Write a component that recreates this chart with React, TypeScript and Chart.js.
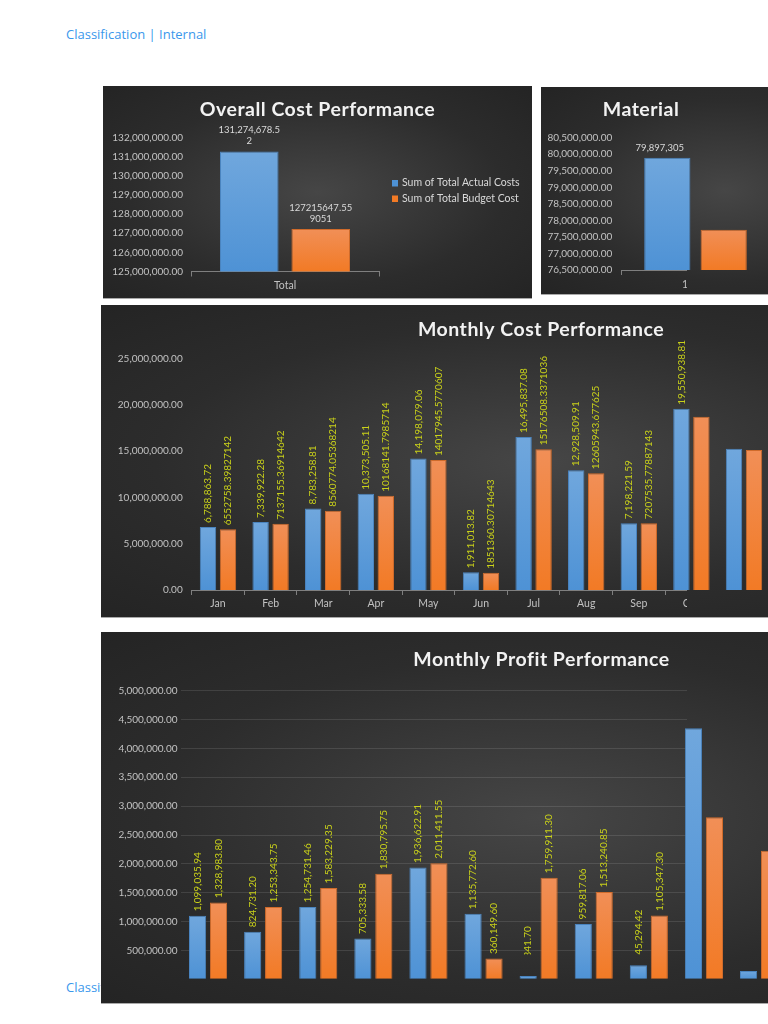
import React, { useEffect, useRef } from 'react';
import { Chart, registerables } from 'chart.js';

Chart.register(...registerables);

// ---------- data ----------
const classificationText = 'Classification | Internal';

const overallTitle = 'Overall Cost Performance';
const overallCategories = ['Total'];
const overallSeriesNames = ['Sum of Total Actual Costs', 'Sum of Total Budget Cost'];
const overallActual = [131274678.52];
const overallBudget = [127215647.559051];
const overallAxis = [125000000, 132000000, 1000000];

const materialTitle = 'Material';
const materialCategories = ['1'];
const materialActual = [79897305];
const materialBudget = [77716000];
const materialAxis = [76500000, 80500000, 500000];

const months = ['Jan', 'Feb', 'Mar', 'Apr', 'May', 'Jun', 'Jul', 'Aug', 'Sep', 'Oct', 'Nov'];

const costTitle = 'Monthly Cost Performance';
const costActual = [
  6788863.72, 7339922.28, 8783258.81, 10373505.11, 14198079.06, 1911013.82,
  16495837.08, 12928509.91, 7198221.59, 19550938.81, 15240000,
];
const costBudget = [
  6552758.39827142, 7137155.36914642, 8560774.05368214, 10168141.7985714, 14017945.5770607,
  1851360.30714643, 15176508.3371036, 12605943.677625, 7207535.77887143, 18700000, 15100000,
];
const costAxis = [0, 25000000, 5000000];

const profitTitle = 'Monthly Profit Performance';
const profitActual = [
  1099035.94, 824731.2, 1254731.46, 705333.58, 1936622.91, 1135772.6,
  57341.7, 959817.06, 245294.42, 4349000, 145000,
];
const profitBudget = [
  1328983.8, 1253343.75, 1583229.35, 1830795.75, 2011411.55, 360149.6,
  1759911.3, 1513240.85, 1105347.3, 2807000, 2228000,
];
const profitAxis = [0, 5000000, 500000];

// ---------- styles ----------
const FONT = 'Lato, "Open Sans", sans-serif';
const TICK_COLOR = '#c2c2c2';
const AXIS_COLOR = '#7f7f7f';
const LABEL_LIGHT = '#d9d9d9';
const LABEL_LIME = '#c9d11a';
const TITLE_COLOR = '#f2f2f2';
const BLUE = { top: '#70a7dd', bottom: '#4e92d5', edge: '#4a84bf' };
const ORANGE = { top: '#f18f57', bottom: '#f27a25', edge: '#cf6b2b' };
const PANEL_BG = 'radial-gradient(ellipse farthest-corner at 50% 50%, #464646 0%, #2c2c2c 62%, #242424 100%)';

const fmt2 = (v: number) =>
  v.toLocaleString('en-US', { minimumFractionDigits: 2, maximumFractionDigits: 2 });
const fmt0 = (v: number) => v.toLocaleString('en-US', { maximumFractionDigits: 0 });
const raw = (v: number) => String(v);

// vertical gradient per bar, from its top down to the base line
function barFill(c: { top: string; bottom: string }) {
  return (ctx: any) => {
    const chart = ctx.chart;
    const area = chart.chartArea;
    const y = chart.scales && chart.scales.y;
    if (!area || !y || ctx.type !== 'data') return c.bottom;
    const yTop = y.getPixelForValue(ctx.raw);
    const yBase = area.bottom;
    if (!isFinite(yTop) || yBase - yTop < 1) return c.bottom;
    const g = chart.ctx.createLinearGradient(0, yTop, 0, yBase);
    g.addColorStop(0, c.top);
    g.addColorStop(1, c.bottom);
    return g;
  };
}

function barDataset(label: string, data: number[], c: typeof BLUE) {
  return {
    label,
    data,
    backgroundColor: barFill(c),
    borderColor: c.edge,
    borderWidth: 1,
    categoryPercentage: 0.76,
    barPercentage: 0.82,
  };
}

function yAxis(range: number[], width: number, pad: number, gridColor?: string) {
  return {
    min: range[0],
    max: range[1],
    afterFit: (s: any) => {
      s.width = width;
    },
    ticks: {
      stepSize: range[2],
      autoSkip: false,
      padding: pad,
      color: TICK_COLOR,
      font: { family: FONT, size: 10 },
      callback: (v: any) => fmt2(Number(v)),
    },
    grid: gridColor
      ? { display: true, drawTicks: false, color: gridColor, lineWidth: 1 }
      : { display: false, drawTicks: false },
    border: { display: false },
  };
}

function xAxis(height: number, pad: number, labelOffset = 0) {
  return {
    afterFit: (s: any) => {
      s.height = height;
    },
    grid: {
      display: true,
      drawOnChartArea: false,
      drawTicks: true,
      tickLength: 5,
      color: AXIS_COLOR,
      offset: true,
    },
    border: { display: true, color: AXIS_COLOR, width: 1 },
    ticks: {
      color: TICK_COLOR,
      font: { family: FONT, size: 10.5 },
      padding: pad,
      labelOffset,
      maxRotation: 0,
      autoSkip: false,
    },
  };
}

function baseOptions(padding: any, x: any, y: any) {
  return {
    responsive: false,
    maintainAspectRatio: false,
    animation: false,
    devicePixelRatio: 1,
    events: [],
    layout: { padding },
    plugins: {
      legend: { display: false },
      title: { display: false },
      tooltip: { enabled: false },
    },
    scales: { x, y },
  };
}

// ---------- drawing helpers (plugins) ----------
function titlePlugin(text: string, x: number, y: number, size = 19.5) {
  return {
    id: 'panelTitle',
    afterDraw(chart: any) {
      const c = chart.ctx;
      c.save();
      c.font = `bold ${size}px ${FONT}`;
      c.letterSpacing = '0.5px';
      c.fillStyle = TITLE_COLOR;
      c.textAlign = 'center';
      c.textBaseline = 'middle';
      c.fillText(text, x, y);
      c.restore();
    },
  };
}

function legendPlugin(x: number, y: number, rowGap: number, colors: string[]) {
  return {
    id: 'panelLegend',
    afterDraw(chart: any) {
      const c = chart.ctx;
      c.save();
      c.font = `10.5px ${FONT}`;
      c.textAlign = 'left';
      c.textBaseline = 'middle';
      chart.data.datasets.forEach((ds: any, i: number) => {
        const cy = y + i * rowGap;
        c.fillStyle = colors[i];
        c.fillRect(x, cy - 3, 6, 6.5);
        c.fillStyle = LABEL_LIGHT;
        c.fillText(ds.label, x + 10, cy);
      });
      c.restore();
    },
  };
}

// hides the axis layer beyond a rectangle; bars are drawn unclipped afterwards
function axisClipPlugin(right: number, bottom?: number) {
  return {
    id: 'axisClip',
    beforeDraw(chart: any) {
      const c = chart.ctx;
      c.save();
      c.beginPath();
      c.rect(0, 0, right, bottom ?? chart.height);
      c.clip();
    },
    beforeDatasetsDraw(chart: any) {
      chart.ctx.restore();
    },
  };
}

function wrapText(c: CanvasRenderingContext2D, text: string, maxW?: number) {
  if (!maxW) return [text];
  const lines: string[] = [];
  let cur = '';
  for (const ch of text) {
    if (cur && c.measureText(cur + ch).width > maxW) {
      lines.push(cur);
      cur = ch;
    } else cur += ch;
  }
  if (cur) lines.push(cur);
  return lines;
}

type LabelCfg = {
  formats: ((v: number) => string)[];
  size: number;
  color: string;
  gap: number;
  rotate?: boolean;
  wrapWidth?: number;
  lineHeight?: number;
  shiftX?: number;
  clipRight?: number;
  clipBottom?: number;
};

function labelPlugin(cfg: LabelCfg) {
  return {
    id: 'barLabels',
    afterDatasetsDraw(chart: any) {
      const c = chart.ctx as CanvasRenderingContext2D;
      c.save();
      if (cfg.clipRight != null) {
        c.beginPath();
        c.rect(0, 0, cfg.clipRight, cfg.clipBottom ?? chart.height);
        c.clip();
      }
      c.font = `${cfg.size}px ${FONT}`;
      c.fillStyle = cfg.color;
      chart.data.datasets.forEach((ds: any, di: number) => {
        const format = cfg.formats[di];
        if (!format) return;
        const meta = chart.getDatasetMeta(di);
        meta.data.forEach((bar: any, i: number) => {
          const text = format(ds.data[i]);
          const x = bar.x + (cfg.shiftX || 0);
          const y = bar.y;
          if (cfg.rotate) {
            c.save();
            c.translate(x, y - cfg.gap);
            c.rotate(-Math.PI / 2);
            c.textAlign = 'left';
            c.textBaseline = 'middle';
            c.fillText(text, 0, 0);
            c.restore();
          } else {
            const lines = wrapText(c, text, cfg.wrapWidth);
            const lh = cfg.lineHeight || cfg.size * 1.2;
            c.textAlign = 'center';
            c.textBaseline = 'middle';
            lines.forEach((ln, k) => {
              c.fillText(ln, x, y - cfg.gap - (lines.length - 1 - k) * lh);
            });
          }
        });
      });
      c.restore();
    },
  };
}

// ---------- chart configurations ----------
function overallConfig(): any {
  return {
    type: 'bar',
    data: {
      labels: overallCategories,
      datasets: [
        barDataset(overallSeriesNames[0], overallActual, BLUE),
        barDataset(overallSeriesNames[1], overallBudget, ORANGE),
      ],
    },
    options: baseOptions(
      { top: 51.5, right: 153, bottom: 0, left: 0 },
      xAxis(26.5, 3),
      yAxis(overallAxis, 88, 8),
    ),
    plugins: [
      labelPlugin({
        formats: [fmt2, raw],
        size: 9.5,
        color: LABEL_LIGHT,
        gap: 10.5,
        wrapWidth: 64.5,
        lineHeight: 11,
      }),
      titlePlugin(overallTitle, 214.5, 24),
      legendPlugin(289, 97, 15.5, [BLUE.bottom, ORANGE.bottom]),
    ],
  };
}

function materialConfig(): any {
  return {
    type: 'bar',
    data: {
      labels: materialCategories,
      datasets: [
        barDataset('Actual', materialActual, BLUE),
        barDataset('Budget', materialBudget, ORANGE),
      ],
    },
    options: baseOptions(
      { top: 50.7, right: 139.3, bottom: 0, left: 0 },
      xAxis(24, 3, -10.5),
      yAxis(materialAxis, 80.3, 9),
    ),
    plugins: [
      axisClipPlugin(146),
      labelPlugin({
        formats: [fmt0, fmt0],
        size: 9.5,
        color: LABEL_LIGHT,
        gap: 9.7,
        shiftX: -7.5,
        clipRight: 148,
      }),
      titlePlugin(materialTitle, 100, 23),
    ],
  };
}

function costConfig(): any {
  return {
    type: 'bar',
    data: {
      labels: months,
      datasets: [
        barDataset('Actual', costActual, BLUE),
        barDataset('Budget', costBudget, ORANGE),
      ],
    },
    options: baseOptions(
      { top: 53.3, right: 210.7, bottom: 0, left: 0 },
      xAxis(27, 2),
      yAxis(costAxis, 90.7, 9),
    ),
    plugins: [
      axisClipPlugin(586),
      labelPlugin({
        formats: [fmt2, raw],
        size: 10,
        color: LABEL_LIME,
        gap: 4,
        rotate: true,
        clipRight: 588,
      }),
      titlePlugin(costTitle, 440, 25),
    ],
  };
}

function profitConfig(): any {
  return {
    type: 'bar',
    data: {
      labels: months,
      datasets: [
        barDataset('Actual', profitActual, BLUE),
        barDataset('Budget', profitBudget, ORANGE),
      ],
    },
    options: baseOptions(
      { top: 58.7, right: 194.4, bottom: 0, left: 0 },
      xAxis(23.7, 2),
      yAxis(profitAxis, 79.5, 3, 'rgba(255,255,255,0.11)'),
    ),
    plugins: [
      axisClipPlugin(586, 324),
      labelPlugin({
        formats: [fmt2, fmt2],
        size: 10,
        color: LABEL_LIME,
        gap: 4.5,
        rotate: true,
        clipRight: 588,
        clipBottom: 322.5,
      }),
      titlePlugin(profitTitle, 440.5, 28),
    ],
  };
}

// ---------- components ----------
type PanelProps = {
  left: number;
  top: number;
  width: number;
  height: number;
  makeConfig: () => any;
};

function ChartPanel({ left, top, width, height, makeConfig }: PanelProps) {
  const ref = useRef<HTMLCanvasElement>(null);
  useEffect(() => {
    if (!ref.current) return;
    const chart = new Chart(ref.current, makeConfig());
    return () => chart.destroy();
  }, [makeConfig]);
  return (
    <div
      style={{
        position: 'absolute',
        left,
        top,
        width,
        height,
        background: PANEL_BG,
        boxShadow: '0 1px 0 0 #a9a9a9',
      }}
    >
      <canvas ref={ref} width={width} height={height} style={{ display: 'block', width, height }} />
    </div>
  );
}

const captionStyle: React.CSSProperties = {
  position: 'absolute',
  left: 66,
  fontFamily: '"Open Sans", sans-serif',
  fontSize: 13,
  lineHeight: '16px',
  color: '#3a97ec',
  whiteSpace: 'nowrap',
};

export default function App() {
  return (
    <div
      style={{
        position: 'absolute',
        left: 0,
        top: 0,
        width: 768,
        height: 1024,
        overflow: 'hidden',
        background: '#ffffff',
      }}
    >
      <div style={{ ...captionStyle, top: 26 }}>{classificationText}</div>
      <div style={{ ...captionStyle, top: 978.5 }}>{classificationText}</div>
      <ChartPanel left={103} top={86} width={429} height={212} makeConfig={overallConfig} />
      <ChartPanel left={541} top={87} width={368} height={207} makeConfig={materialConfig} />
      <ChartPanel left={101} top={305} width={880} height={312} makeConfig={costConfig} />
      <ChartPanel left={101} top={632} width={880} height={371} makeConfig={profitConfig} />
    </div>
  );
}
